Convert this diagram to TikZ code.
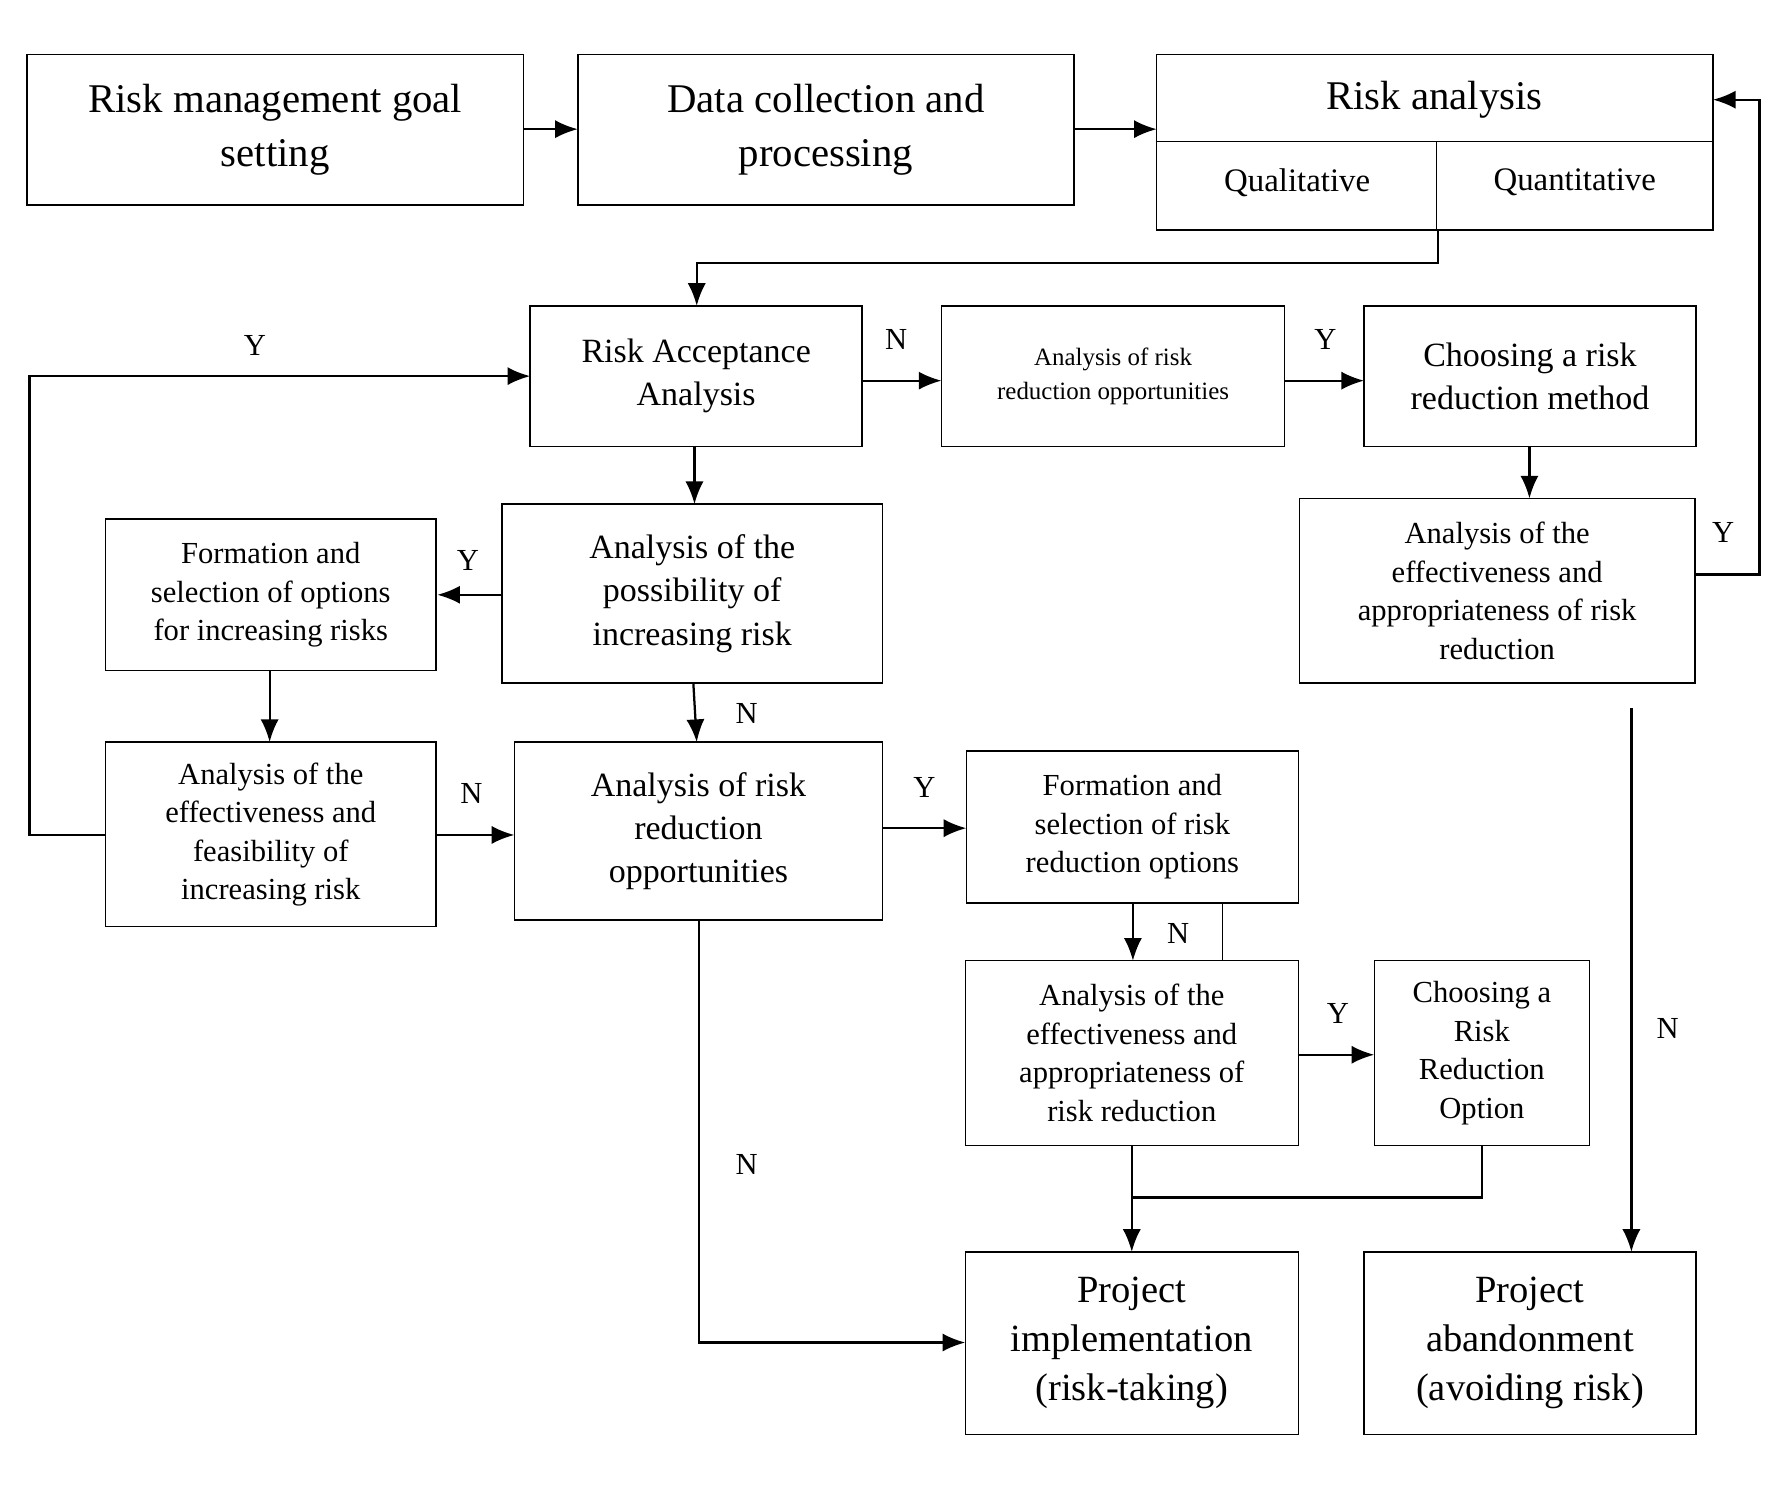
\documentclass[tikz,border=0pt]{standalone}
\usepackage{fontspec}
\setmainfont{Liberation Serif}
\usetikzlibrary{arrows.meta}
\begin{document}
\begin{tikzpicture}[x=1pt,y=-1pt,
  box/.style={draw,line width=1.3pt,inner sep=0pt},
  arr/.style={line width=2pt,-{Latex[length=20pt,width=16pt]}},
  ln/.style={line width=2pt},
  lab/.style={font=\fontsize{27}{30}\selectfont}]
\useasboundingbox (0,0) rectangle (1565,1315);
\def\bx#1#2#3#4#5#6#7#8{\draw[box] (#2,#3) rectangle (#4,#5); \node[align=center,font=\fontsize{#6}{#7}\selectfont] (#1) at ({(#2+#4)/2},{(#3+#5)/2}) {#8};}
\bx{A}{24}{48}{462}{181}{36}{47}{Risk management goal\\setting}
\bx{B}{510}{48}{948}{181}{36}{47}{Data collection and\\processing}
\draw[box] (1021,48) rectangle (1512,203);
\draw[box] (1021,125) -- (1512,125) (1268,125) -- (1268,203);
\node[font=\fontsize{36}{40}\selectfont] (C) at (1266,88) {Risk analysis};
\node[font=\fontsize{29}{32}\selectfont] (C1) at (1145,161) {Qualitative};
\node[font=\fontsize{29}{32}\selectfont] (C2) at (1390,161) {Quantitative};
\bx{D}{468}{270}{761}{394}{30}{38}{Risk Acceptance\\Analysis}
\bx{E}{831}{270}{1134}{394}{22}{30}{Analysis of risk\\reduction opportunities}
\bx{F}{1204}{270}{1497}{394}{30}{38}{Choosing a risk\\reduction method}
\bx{G}{1147}{440}{1496}{603}{27}{34}{Analysis of the\\effectiveness and\\appropriateness of risk\\reduction}
\bx{H}{443}{445}{779}{603}{30}{38}{Analysis of the\\possibility of\\increasing risk}
\bx{I}{93}{458}{385}{592}{27}{34}{Formation and\\selection of options\\for increasing risks}
\bx{J}{93}{655}{385}{818}{27}{34}{Analysis of the\\effectiveness and\\feasibility of\\increasing risk}
\bx{K}{454}{655}{779}{812}{30}{38}{Analysis of risk\\reduction\\opportunities}
\bx{M}{853}{663}{1146}{797}{27}{34}{Formation and\\selection of risk\\reduction options}
\bx{N}{852}{848}{1146}{1011}{27}{34}{Analysis of the\\effectiveness and\\appropriateness of\\risk reduction}
\bx{O}{1213}{848}{1403}{1011}{27}{34}{Choosing a\\Risk\\Reduction\\Option}
\bx{P}{852}{1105}{1146}{1266}{34}{43}{Project\\implementation\\(risk-taking)}
\bx{Q}{1204}{1105}{1497}{1266}{34}{43}{Project\\abandonment\\(avoiding risk)}
\draw[arr] (462,114) -- (510,114);
\draw[arr] (948,114) -- (1021,114);
\draw[arr] (1269,203) -- (1269,232) -- (615,232) -- (615,270);
\draw[arr] (761,336) -- (831,336); \node[lab] at (791,300) {N};
\draw[arr] (1134,336) -- (1204,336); \node[lab] at (1170,300) {Y};
\draw[arr] (1350,394) -- (1350,440);
\draw[arr] (1496,507) -- (1553,507) -- (1553,88) -- (1512,88); \node[lab] at (1521,470) {Y};
\coordinate (g) at (1440,625);
\draw[arr] (g) -- (1440,1105); \node[lab] at (1472,908) {N};
\draw[arr] (613,394) -- (613,445);
\draw[arr] (443,525) -- (386,525); \node[lab] at (413,495) {Y};
\draw[arr] (238,592) -- (238,655);
\draw[arr] (385,737) -- (454,737); \node[lab] at (416,700) {N};
\draw[arr] (93,737) -- (26,737) -- (26,332) -- (468,332); \node[lab] at (225,305) {Y};
\draw[arr] (612,603) -- (615,655); \node[lab] at (659,630) {N};
\draw[arr] (779,731) -- (853,731); \node[lab] at (816,695) {Y};
\draw[arr] (1000,797) -- (1000,848); \node[lab] at (1040,824) {N};
\draw[box] (1079,797) -- (1079,848);
\draw[arr] (1146,931) -- (1213,931); \node[lab] at (1181,895) {Y};
\draw[arr] (999,1011) -- (999,1105);
\draw[ln] (1308,1011) -- (1308,1057) -- (999,1057);
\draw[arr] (617,812) -- (617,1185) -- (852,1185); \node[lab] at (659,1028) {N};
\end{tikzpicture}
\end{document}
